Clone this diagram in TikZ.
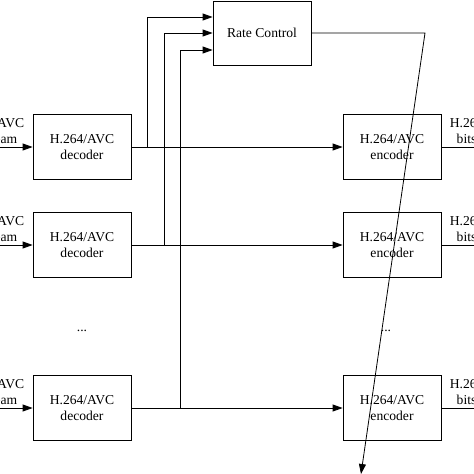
\documentclass[tikz,border=0pt]{standalone}
\usepackage{fontspec}
\setmainfont{Liberation Serif}
\usetikzlibrary{arrows.meta}
\begin{document}
\begin{tikzpicture}[x=1pt,y=-1pt,
  blockbox/.style={draw, line width=0.8pt, minimum width=98pt, minimum height=65pt, align=center, inner sep=0pt, font=\fontsize{13.6}{16.5}\selectfont},
  conn/.style={line width=0.8pt},
  arr/.style={conn, -{Triangle[length=10pt,width=7pt]}},
  lbl/.style={align=center, inner sep=1pt, font=\fontsize{13.6}{16.5}\selectfont}]
\useasboundingbox (0,0) rectangle (474,474);
\clip (0,0) rectangle (474,474);
% blocks
\node[blockbox] (d1) at (82,147) {H.264/AVC\\decoder};
\node[blockbox] (d2) at (82,245) {H.264/AVC\\decoder};
\node[blockbox] (d3) at (82,408) {H.264/AVC\\decoder};
\node[blockbox] (e1) at (392,147) {H.264/AVC\\encoder};
\node[blockbox] (e2) at (392,245) {H.264/AVC\\encoder};
\node[blockbox] (e3) at (392,408) {H.264/AVC\\encoder};
\node[blockbox, minimum height=64pt] (rc) at (262,33) {Rate Control};
\node[lbl] (dots1) at (82,331) {...};
\node[lbl] (dots2) at (386,331) {...};
% input labels and arrows
\foreach \i/\y in {1/147,2/245,3/408}{
  \coordinate (in\i) at (-10,\y);
  \coordinate (out\i) at (484,\y);
  \node[lbl, anchor=south] (il\i) at (-8,{\y-2}) {H.264/AVC\\bitstream};
  \node[lbl, anchor=south] (ol\i) at (482,{\y-2}) {H.264/AVC\\bitstream};
  \draw[arr] (in\i) -- (d\i);
  \draw[arr] (d\i) -- (e\i);
  \draw[conn] (e\i) -- (out\i);
}
% branches to rate control
\coordinate (b1) at (147,147);
\coordinate (b2) at (164,245);
\coordinate (b3) at (180,408);
\draw[arr] (b1) |- ([yshift=16pt]rc.west);
\draw[arr] (b2) |- (rc.west);
\draw[arr] (b3) |- ([yshift=-17pt]rc.west);
% rate control output
\coordinate (rk) at (425,33);
\coordinate (rend) at (361,474);
\draw[arr] (rc.east) -- (rk) -- (rend);
\end{tikzpicture}
\end{document}
